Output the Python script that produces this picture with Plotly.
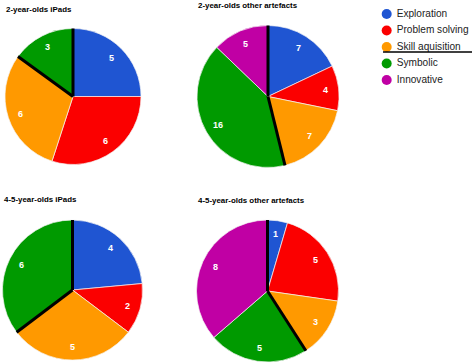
import math
import plotly.graph_objects as go

# ---- data ----
categories = ["Exploration", "Problem solving", "Skill aquisition", "Symbolic", "Innovative"]
colors = ["#1f55d2", "#fb0000", "#ff9900", "#009a00", "#c000a4"]

titles = ["2-year-olds iPads", "2-year-olds other artefacts",
          "4-5-year-olds iPads", "4-5-year-olds other artefacts"]
values_2y_ipads = [5, 6, 6, 3]
values_2y_other = [7, 4, 7, 16, 5]
values_45y_ipads = [4, 2, 5, 6]
values_45y_other = [1, 5, 3, 5, 8]
all_values = [values_2y_ipads, values_2y_other, values_45y_ipads, values_45y_other]

# ---- layout geometry (pixels) ----
W, H = 474, 363
# pie centre x, centre y, radius in px
pie_geom = [(73, 96.5, 68), (268, 96.5, 71), (72.5, 290, 70), (267.5, 291, 71)]
title_pos = [(4, 9), (196, 5), (2, 199), (196, 200)]
LABEL_R = 0.81

def px2paper(x, y):
    return x / W, 1 - y / H

fig = go.Figure()
shapes = []
annotations = []
label_font = dict(color="white", size=9, family="Liberation Sans, Arial", weight="bold")
for vals, (cx, cy, r), title, (tx, ty) in zip(all_values, pie_geom, titles, title_pos):
    n = len(vals)
    fig.add_trace(go.Pie(
        labels=categories[:n], values=vals, sort=False, direction="clockwise",
        rotation=0, textinfo="none",
        marker=dict(colors=colors[:n], line=dict(color="#f4f4f4", width=0.7)),
        domain=dict(x=[(cx - r) / W, (cx + r) / W], y=[1 - (cy + r) / H, 1 - (cy - r) / H]),
        showlegend=False, hoverinfo="label+value"))
    total = sum(vals)
    # value labels at mid-angle of each slice
    cum = 0
    for v in vals:
        th = 2 * math.pi * (cum + v / 2) / total
        cum += v
        lx, ly = px2paper(cx + LABEL_R * r * math.sin(th), cy - LABEL_R * r * math.cos(th))
        annotations.append(dict(text=str(v), xref="paper", yref="paper", x=lx, y=ly,
                                xanchor="center", yanchor="middle", showarrow=False,
                                font=label_font))
    # thick black separator lines: at 12 o'clock and between Skill aquisition and Symbolic
    for frac in (0.0, sum(vals[:3]) / total):
        th = 2 * math.pi * frac
        x0, y0 = px2paper(cx, cy)
        x1, y1 = px2paper(cx + r * math.sin(th), cy - r * math.cos(th))
        shapes.append(dict(type="line", xref="paper", yref="paper", x0=x0, y0=y0, x1=x1, y1=y1,
                           line=dict(color="black", width=3)))
    ax, ay = px2paper(tx, ty)
    annotations.append(dict(text=title, xref="paper", yref="paper", x=ax, y=ay,
                            xanchor="left", yanchor="middle", showarrow=False,
                            font=dict(size=7.9, family="Liberation Sans, Arial", color="black",
                                      weight="bold")))

# ---- custom legend (circles) on a hidden axis ----
fig.add_trace(go.Scatter(
    x=[0.118] * len(categories), y=list(range(len(categories))), mode="markers+text",
    text=["\u00a0" + c for c in categories], textposition="middle right",
    textfont=dict(size=10.1, family="Liberation Sans, Arial", color="#222222"),
    marker=dict(color=colors, size=10, symbol="circle"),
    xaxis="x", yaxis="y", showlegend=False, hoverinfo="skip", cliponaxis=False))
shapes.append(dict(type="line", xref="x", yref="y", x0=0.081, x1=0.98, y0=2.3, y1=2.3,
                   line=dict(color="black", width=1.5)))

fig.update_layout(
    width=W, height=H, margin=dict(l=0, r=0, t=0, b=0),
    paper_bgcolor="white", plot_bgcolor="white",
    xaxis=dict(domain=[375 / W, 1], range=[0, 1], visible=False, fixedrange=True),
    yaxis=dict(domain=[1 - 88.25 / H, 1 - 5.75 / H], range=[4.5, -0.5], visible=False,
               fixedrange=True),
    shapes=shapes, annotations=annotations, showlegend=False)

fig.write_html("out.html", config={"displayModeBar": False},
               post_script="document.body.style.margin='0px';document.body.style.overflow='hidden';")
